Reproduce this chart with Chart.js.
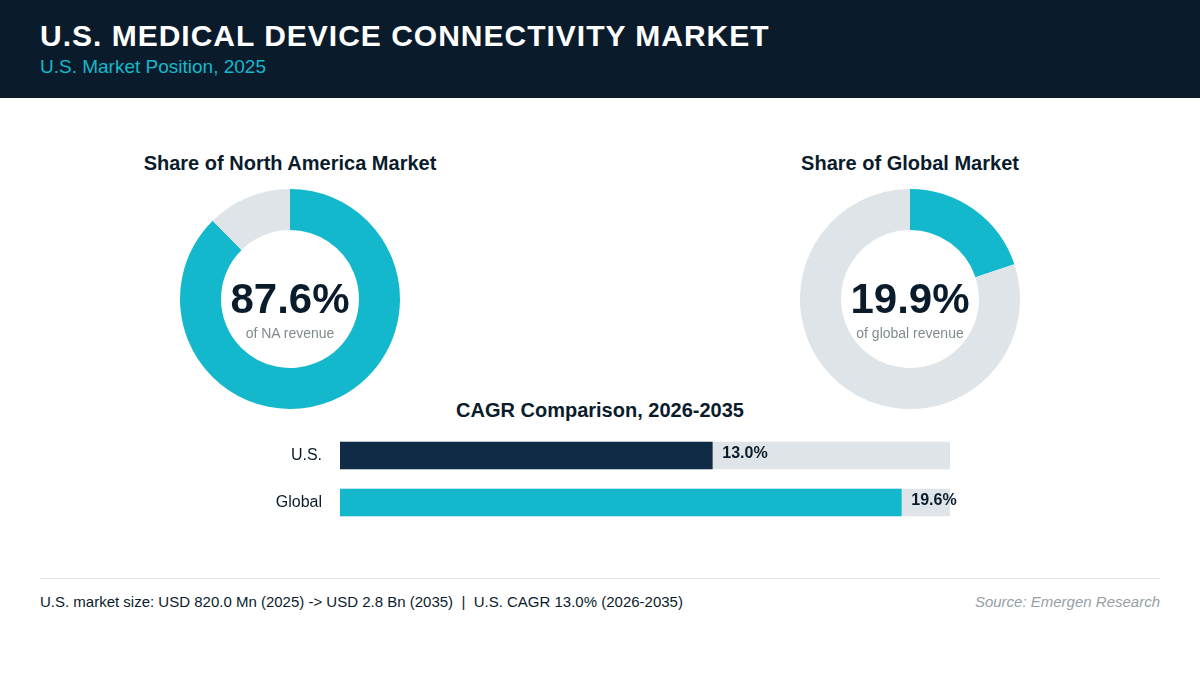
<!DOCTYPE html>
<html><head><meta charset="utf-8">
<script src="https://cdn.jsdelivr.net/npm/chart.js@4/dist/chart.umd.min.js"></script>
<style>
html,body{margin:0;padding:0;background:#fff;}
body{width:1200px;height:675px;position:relative;overflow:hidden;font-family:"Liberation Sans",Arial,sans-serif;}
.abs{position:absolute;white-space:nowrap;line-height:1;}
.c{transform:translateX(-50%);}
#hdr{position:absolute;left:0;top:0;width:1200px;height:98px;background:#0a1c2b;}
canvas{display:block;}
.box{position:absolute;}
</style></head><body>
<div id="hdr"></div>
<div class="abs" style="left:40px;top:21px;font-size:30px;font-weight:700;color:#fff;letter-spacing:1px;">U.S. MEDICAL DEVICE CONNECTIVITY MARKET</div>
<div class="abs" style="left:40px;top:57px;font-size:19px;color:#14b8cc;">U.S. Market Position, 2025</div>

<div class="abs c" style="left:290px;top:153px;font-size:20px;font-weight:700;color:#0a1c2b;">Share of North America Market</div>
<div class="abs c" style="left:910px;top:153px;font-size:20px;font-weight:700;color:#0a1c2b;">Share of Global Market</div>

<div class="box" style="left:170px;top:179px;width:240px;height:240px;"><canvas id="d1"></canvas></div>
<div class="box" style="left:790px;top:179px;width:240px;height:240px;"><canvas id="d2"></canvas></div>

<div class="abs c" id="v1" style="left:290px;top:278px;font-size:42px;font-weight:700;color:#0a1c2b;"></div>
<div class="abs c" style="left:290px;top:326px;font-size:14px;color:#7f8c8d;">of NA revenue</div>
<div class="abs c" id="v2" style="left:910px;top:278px;font-size:42px;font-weight:700;color:#0a1c2b;"></div>
<div class="abs c" style="left:910px;top:326px;font-size:14px;color:#7f8c8d;">of global revenue</div>

<div class="abs c" style="left:600px;top:400px;font-size:20px;font-weight:700;color:#0a1c2b;">CAGR Comparison, 2026-2035</div>
<div class="box" style="left:200px;top:432px;width:800px;height:94px;"><canvas id="b"></canvas></div>

<div class="box" style="left:40px;top:578px;width:1120px;height:1px;background:#dfe4e8;"></div>
<div class="abs" style="left:40px;top:594px;font-size:15px;color:#0a1c2b;white-space:pre;">U.S. market size: USD 820.0 Mn (2025) -&gt; USD 2.8 Bn (2035)  |  U.S. CAGR 13.0% (2026-2035)</div>
<div class="abs" style="right:40px;top:594px;font-size:15px;font-style:italic;color:#95a0a6;">Source: Emergen Research</div>

<script>
const shareNA = [87.6, 12.4];
const shareGlobal = [19.9, 80.1];
const barCategories = ["U.S.", "Global"];
const cagrValues = [13.0, 19.6];
const cagrTrack = [21.3, 21.3];

const TEAL = "#14b8cc", GREY = "#dfe4e8", NAVY = "#0f2b46", INK = "#0a1c2b";
Chart.defaults.font.family = '"Liberation Sans", Arial, sans-serif';
Chart.defaults.animation = false;
Chart.defaults.responsive = true;
Chart.defaults.maintainAspectRatio = false;

document.getElementById("v1").textContent = shareNA[0].toFixed(1) + "%";
document.getElementById("v2").textContent = shareGlobal[0].toFixed(1) + "%";

function donut(id, values) {
  new Chart(document.getElementById(id), {
    type: "doughnut",
    data: { labels: ["Share", "Rest"], datasets: [{ data: values, backgroundColor: [TEAL, GREY], borderWidth: 0 }] },
    options: {
      cutout: "62.7%", radius: 110,
      layout: { padding: 0 },
      plugins: { legend: { display: false }, tooltip: { enabled: false } }
    }
  });
}
donut("d1", shareNA);
donut("d2", shareGlobal);

const valueLabels = {
  id: "valueLabels",
  afterDatasetsDraw(chart) {
    const { ctx, scales: { x, y } } = chart;
    ctx.save();
    ctx.font = "700 16px 'Liberation Sans', Arial, sans-serif";
    ctx.fillStyle = INK;
    ctx.textAlign = "left";
    ctx.textBaseline = "middle";
    cagrValues.forEach((v, i) => {
      ctx.fillText(v.toFixed(1) + "%", x.getPixelForValue(v) + 10, y.getPixelForValue(i) - 2);
    });
    ctx.restore();
  }
};

new Chart(document.getElementById("b"), {
  type: "bar",
  data: {
    labels: barCategories,
    datasets: [
      { data: cagrValues, backgroundColor: [NAVY, TEAL], barThickness: 27, grouped: false, order: 1, borderWidth: 0 },
      { data: cagrTrack, backgroundColor: GREY, barThickness: 27, grouped: false, order: 2, borderWidth: 0 }
    ]
  },
  options: {
    indexAxis: "y",
    layout: { padding: { left: 0, right: 50, top: 0, bottom: 0 } },
    plugins: { legend: { display: false }, tooltip: { enabled: false } },
    scales: {
      x: { display: false, min: 0, max: 21.3 },
      y: {
        afterFit(s) { s.width = 140; s.paddingTop = 0; s.paddingBottom = 0; },
        grid: { display: false, drawTicks: false },
        border: { display: false },
        ticks: { color: INK, padding: 18, font: { size: 16 } }
      }
    }
  },
  plugins: [valueLabels]
});
</script>
</body></html>
